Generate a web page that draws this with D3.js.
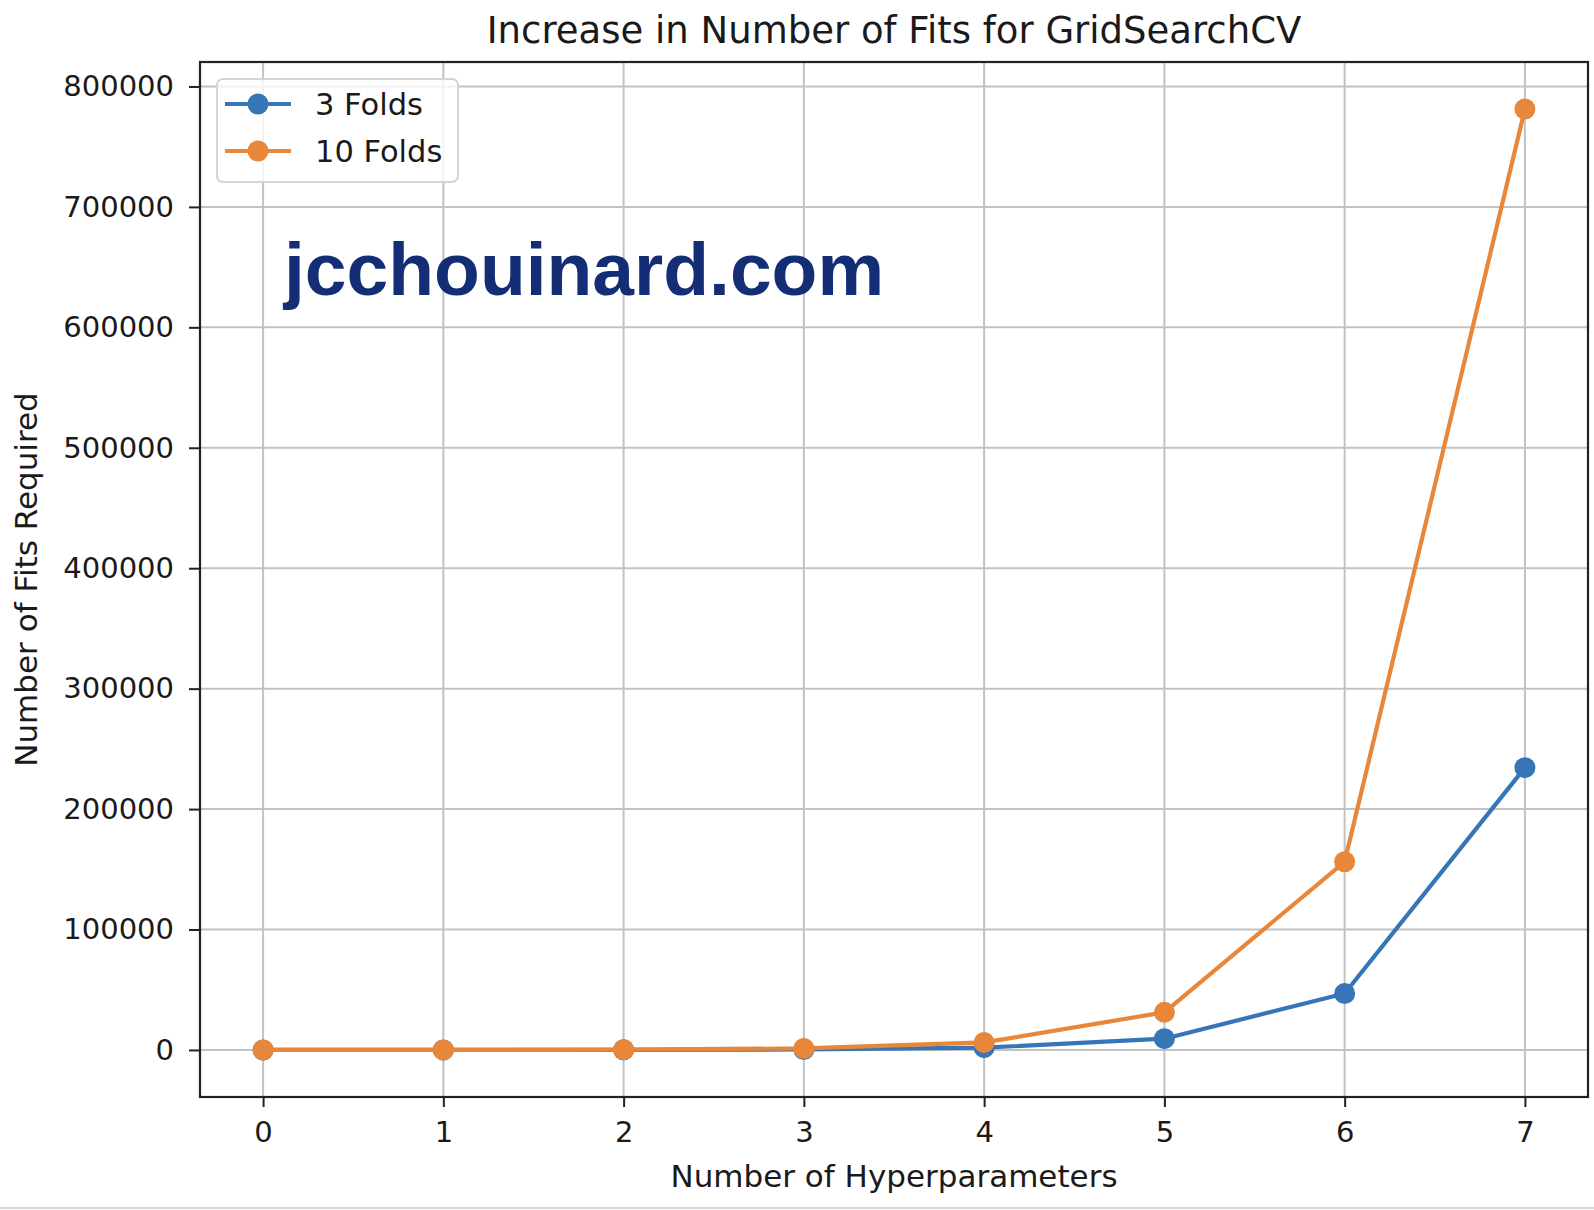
<!DOCTYPE html>
<html>
<head>
<meta charset="utf-8">
<script src="https://cdn.jsdelivr.net/npm/d3@7"></script>
<style>
  body { margin: 0; background: #fff; }
  text { font-family: "DejaVu Sans", sans-serif; fill: #1a1a1a; }
</style>
</head>
<body>
<div id="chart"></div>
<script>
// ......................
// Data
var hyperparams = [0, 1, 2, 3, 4, 5, 6, 7];
var fits3 = [3, 15, 75, 375, 1875, 9375, 46875, 234375];
var fits10 = [10, 50, 250, 1250, 6250, 31250, 156250, 781250];
var yTicks = [0, 100000, 200000, 300000, 400000, 500000, 600000, 700000, 800000];
var seriesNames = ["3 Folds", "10 Folds"];
var seriesColors = ["#3776b6", "#e8873a"];

// ......................
// SVG area
var svgWidth = 1594;
var svgHeight = 1210;

var plot = { left: 200, right: 1588, top: 62, bottom: 1097 };

var svg = d3.select("#chart")
    .append("svg")
    .attr("width", svgWidth)
    .attr("height", svgHeight);

svg.append("rect")
    .attr("width", svgWidth)
    .attr("height", svgHeight)
    .attr("fill", "#fff");

// matplotlib style 5% margins
var xScale = d3.scaleLinear()
    .domain([-0.35, 7.35])
    .range([plot.left, plot.right]);

var yMin = d3.min(fits3);
var yMax = d3.max(fits10);
var yPad = (yMax - yMin) * 0.05;

var yScale = d3.scaleLinear()
    .domain([yMin - yPad, yMax + yPad])
    .range([plot.bottom, plot.top]);

// ......................
// Grid lines
var grid = svg.append("g").attr("class", "grid");

grid.selectAll("line.vgrid")
    .data(hyperparams)
    .enter()
    .append("line")
    .attr("x1", d => xScale(d))
    .attr("x2", d => xScale(d))
    .attr("y1", plot.top)
    .attr("y2", plot.bottom)
    .attr("stroke", "#c2c2c2")
    .attr("stroke-width", 2);

grid.selectAll("line.hgrid")
    .data(yTicks)
    .enter()
    .append("line")
    .attr("x1", plot.left)
    .attr("x2", plot.right)
    .attr("y1", d => yScale(d))
    .attr("y2", d => yScale(d))
    .attr("stroke", "#c2c2c2")
    .attr("stroke-width", 2);

// ......................
// Axes
var xAxis = d3.axisBottom(xScale)
    .tickValues(hyperparams)
    .tickFormat(d3.format("d"))
    .tickSize(10)
    .tickPadding(14);

var yAxis = d3.axisLeft(yScale)
    .tickValues(yTicks)
    .tickFormat(d3.format("d"))
    .tickSize(11)
    .tickPadding(15);

var gx = svg.append("g")
    .attr("transform", `translate(0, ${plot.bottom})`)
    .call(xAxis);

var gy = svg.append("g")
    .attr("transform", `translate(${plot.left}, 0)`)
    .call(yAxis);

[gx, gy].forEach(g => {
    g.select(".domain").remove();
    g.selectAll(".tick line").attr("stroke", "#222").attr("stroke-width", 2);
    g.selectAll(".tick text")
        .attr("fill", "#1a1a1a")
        .style("font-family", "DejaVu Sans")
        .style("font-size", "29px");
});

// ......................
// Watermark
svg.append("text")
    .attr("x", 284)
    .attr("y", 295)
    .style("font-family", "'Liberation Sans', Arial, sans-serif")
    .style("font-weight", "bold")
    .style("font-size", "75px")
    .style("fill", "#142e75")
    .text("jcchouinard.com");

// ......................
// Lines and markers
var lineGen = d3.line()
    .x((d, i) => xScale(hyperparams[i]))
    .y(d => yScale(d));

[fits3, fits10].forEach((series, k) => {
    svg.append("path")
        .datum(series)
        .attr("d", lineGen)
        .attr("fill", "none")
        .attr("stroke", seriesColors[k])
        .attr("stroke-width", 4.2)
        .attr("stroke-linejoin", "round");

    svg.selectAll("circle.s" + k)
        .data(series)
        .enter()
        .append("circle")
        .attr("class", "s" + k)
        .attr("cx", (d, i) => xScale(hyperparams[i]))
        .attr("cy", d => yScale(d))
        .attr("r", 10.5)
        .attr("fill", seriesColors[k]);
});

// ......................
// Frame
svg.append("rect")
    .attr("x", plot.left)
    .attr("y", plot.top)
    .attr("width", plot.right - plot.left)
    .attr("height", plot.bottom - plot.top)
    .attr("fill", "none")
    .attr("stroke", "#222")
    .attr("stroke-width", 2.2);

// ......................
// Title and axis labels
svg.append("text")
    .attr("x", (plot.left + plot.right) / 2)
    .attr("y", 43)
    .attr("text-anchor", "middle")
    .style("font-size", "37px")
    .text("Increase in Number of Fits for GridSearchCV");

svg.append("text")
    .attr("x", (plot.left + plot.right) / 2)
    .attr("y", 1187)
    .attr("text-anchor", "middle")
    .style("font-size", "31px")
    .text("Number of Hyperparameters");

svg.append("text")
    .attr("transform", `translate(37, ${(plot.top + plot.bottom) / 2}) rotate(-90)`)
    .attr("text-anchor", "middle")
    .style("font-size", "31px")
    .text("Number of Fits Required");

// ......................
// Legend
var legend = svg.append("g").attr("transform", "translate(217, 79)");

legend.append("rect")
    .attr("width", 241)
    .attr("height", 103)
    .attr("rx", 6)
    .attr("fill", "#fff")
    .attr("fill-opacity", 0.8)
    .attr("stroke", "#d4d4d4")
    .attr("stroke-width", 2);

seriesNames.forEach((name, k) => {
    var row = legend.append("g").attr("transform", `translate(0, ${25 + k * 47})`);
    row.append("line")
        .attr("x1", 8)
        .attr("x2", 74)
        .attr("stroke", seriesColors[k])
        .attr("stroke-width", 4.2);
    row.append("circle")
        .attr("cx", 41)
        .attr("r", 10.5)
        .attr("fill", seriesColors[k]);
    row.append("text")
        .attr("x", 98)
        .attr("y", 10.5)
        .style("font-size", "30.5px")
        .text(name);
});

// thin gray rule at the very bottom of the picture
svg.append("line")
    .attr("x1", 0)
    .attr("x2", svgWidth)
    .attr("y1", 1208)
    .attr("y2", 1208)
    .attr("stroke", "#dadada")
    .attr("stroke-width", 2);
</script>
</body>
</html>
